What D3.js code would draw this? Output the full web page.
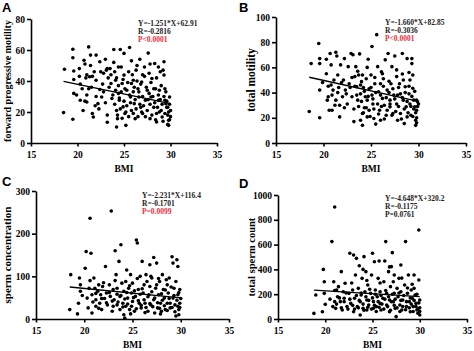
<!DOCTYPE html>
<html>
<head>
<meta charset="utf-8">
<script src="https://cdnjs.cloudflare.com/ajax/libs/d3/7.8.5/d3.min.js"></script>
<style>
  body { margin: 0; background: #fff; }
  svg { display: block; }
</style>
</head>
<body>
<svg width="474" height="351"></svg>
<script>
// BMI on the x axis, same ticks for every panel
const bmiTicks = [15, 20, 25, 30, 35];

// panel A: forward progressive motility, [BMI, value]
const progMotility = [
  [18.5,19.6],[18.6,47.6],[19.5,60.5],[19.5,55],[19.6,46.5],[19.6,41],[19.6,32],[19.5,15.3],[20.2,48],[20.3,38],
  [20.3,27.6],[20.6,21],[20.7,53.4],[20.8,51],[20.9,42],[21,31],[21,26.5],[21.2,62],[21.3,42.7],[21.4,56.7],
  [21.4,50],[21.5,36],[21.6,19],[21.7,16.8],[21.8,46],[22,56.7],[22,40.5],[22.2,25.4],[22.4,52.4],[22.4,34.5],
  [22.6,29.7],[22.8,45],[23,54],[23.1,47],[23.2,18],[23.2,13.4],[23.3,42],[23.5,48],[23.6,38.4],[23.7,28.7],
  [23.9,60.3],[24,46],[24.1,40.5],[24.1,34],[24.2,21],[24.2,10.3],[24.3,15.7],[24.4,32],[24.5,27.6],[24.6,60.3],
  [24.7,49],[24.8,38.4],[24.9,23.3],[25,57.8],[25,43.8],[25.1,19],[25.2,11.4],[25.3,34],[25.5,46],[25.6,61.6],
  [25.7,29.7],[25.8,38.4],[25.8,21],[26,40.5],[26,33],[26.1,25.4],[26.2,15.7],[26.4,50],[26.5,35],[26.6,29.7],
  [26.7,54],[26.8,23],[26.9,39.4],[27,19],[27.2,49],[27.3,27.6],[27.5,34],[27.6,58],[27.7,45],[27.8,15.7],
  [27.9,29.7],[28,41.6],[28.2,23],[28.3,51.3],[28.4,35],[28.5,19],[28.5,13.6],[28.7,27.6],[28.8,34],[28.9,46],
  [29,21],[29.1,16.8],[29.3,52.4],[29.3,43.8],[29.4,35],[29.4,27.6],[29.5,25.4],[29.6,23],[29.7,18],[29.8,14.7],
  [29.8,11.4],[29.9,29.7],[30,21],[23.4,36],[23.6,44],[23.8,31],[24,25],[24.2,42],[24.3,18],[24.4,37],
  [24.5,29],[24.6,22],[24.7,33],[24.8,16],[24.9,41],[25,27],[25.1,35],[25.2,20],[25.3,24],[25.4,39],
  [25.5,17],[25.6,31],[25.7,26],[25.9,44],[26,19],[26.1,36],[26.2,28],[26.3,22],[26.4,40],[26.5,17],
  [26.6,33],[26.7,25],[26.8,38],[26.9,20],[27,30],[27.1,24],[27.2,43],[27.3,17],[27.4,36],[27.5,21],
  [27.6,28],[27.7,32],[27.8,25],[27.9,39],[28,18],[28.1,30],[28.2,35],[28.3,26],[28.4,15],[28.5,42],
  [28.6,23],[28.7,31],[28.8,20],[28.9,28],[29,37],[29.1,25],[29.2,14],[29.3,30],[29.4,19],[29.5,33],
  [29.6,27],[29.7,23],[29.8,20],[29.9,25],[30,17],[29.7,12],[29.9,15],[21,44],[21.2,35],[21.6,43],
  [22,30],[22.3,22],[22.5,46],[22.7,38],[23,26],[23.2,48],[20.5,35],[20.8,27],[21.9,24],[22.8,33],
  [23.9,52],[24.4,49],[25.8,53],[26.3,47],[27,44],[27.8,51],[28.7,49],[29.2,47],[19.9,31],[20.2,43]
];

// panel B: total motility
const totalMotility = [
  [18.5,25],[18.7,63],[19.5,79],[19.6,67],[19.6,63],[19.6,42],[19.6,20],[20.3,66.5],[20.3,55],[20.4,34],
  [20.5,36.7],[20.7,71],[20.8,62],[20.8,46],[20.9,26],[21,42],[21.1,50],[21.3,72],[21.3,34],[21.4,69],
  [21.5,54],[21.6,44],[21.7,20.7],[21.7,30],[21.8,62],[22,36.7],[22.1,50],[22.2,67],[22.3,42],[22.5,31],
  [22.6,60.6],[22.7,47],[22.9,71],[23,36.7],[23.1,70],[23.2,27],[23.2,17],[23.3,52.7],[23.4,60.6],[23.5,44.7],
  [23.6,34],[23.7,54],[23.8,70.7],[23.9,39],[23.9,18],[24,48.7],[24.1,14],[24.1,23.4],[24.2,44],[24.3,28],
  [24.4,36.7],[24.5,51],[24.6,20.7],[24.6,34],[24.7,66.5],[24.8,43],[24.8,26],[25,54],[25.1,76.6],[25.1,38],
  [25.2,31],[25.3,19.4],[25.4,47],[25.5,15],[25.6,86],[25.7,60.6],[25.8,40.7],[25.9,26],[26,47],[26,18],
  [26.1,56.6],[26.2,35.4],[26.3,51],[26.4,30],[26.5,66],[26.6,22],[26.7,42],[26.8,71],[27,34],[27,28.7],
  [27.1,47],[27.2,60.6],[27.3,23.4],[27.4,38],[27.5,69],[27.7,52.7],[27.7,31],[27.8,18],[27.9,44],[28.1,39],
  [28.1,23.4],[28.3,71],[28.3,54.8],[28.4,34],[28.5,15.4],[28.6,44.7],[28.7,28.7],[28.8,67],[28.8,20.7],[29,39],
  [29.1,50],[29.1,31],[29.2,22],[29.3,67],[29.3,63],[29.4,54],[29.4,43.4],[29.5,34],[29.6,28.7],[29.7,18],
  [29.7,14],[29.8,34],[29.8,26],[29.9,32.7],[23.5,38],[23.7,29],[23.9,46],[24,33],[24.2,24],[24.3,41],
  [24.5,28],[24.7,37],[24.9,21],[25,44],[25.2,35],[25.3,27],[25.5,40],[25.7,31],[25.8,23],[26,38],
  [26.1,29],[26.3,45],[26.4,19],[26.6,36],[26.7,26],[26.9,40],[27,31],[27.2,22],[27.3,43],[27.5,35],
  [27.6,25],[27.8,38],[27.9,29],[28,47],[28.2,19],[28.3,36],[28.5,27],[28.6,40],[28.8,33],[28.9,24],
  [29,45],[29.2,29],[29.3,37],[29.4,21],[29.5,27],[29.6,41],[29.7,24],[29.8,16],[29.9,29],[30,31],
  [29.8,20],[20.5,45],[20.9,38],[21.2,30],[21.5,40],[21.9,48],[22.2,28],[22.4,39],[22.8,44],[23,52],
  [23.3,45],[23.6,57],[24.1,54],[24.6,60],[25.4,52],[26.2,55],[26.9,49],[27.7,58],[28.4,50],[29,56],
  [19.9,48],[20.6,26]
];

// panel C: sperm concentration
const concentration = [
  [18.5,22],[18.6,104],[19.3,12],[19.4,37],[19.5,96],[19.6,80],[19.6,65],[20.1,119],[20.2,158],[20.3,49],
  [20.4,26],[20.6,90],[20.6,236],[20.7,154],[20.8,14],[20.8,57],[21,96],[21.1,72],[21.2,30],[21.2,45],
  [21.4,65],[21.5,80],[21.6,37],[21.7,57],[21.8,22],[21.9,76],[22.1,48],[22.2,123],[22.3,61],[22.4,33],
  [22.6,80],[22.7,53],[22.8,253],[22.9,18],[23,69],[23.1,45],[23.2,160],[23.3,104],[23.4,33],[23.4,72],
  [23.6,135],[23.7,22],[23.7,53],[23.8,174],[23.9,84],[24,37],[24.1,10],[24.1,65],[24.2,2],[24.3,30],
  [24.4,115],[24.5,49],[24.6,72],[24.7,22],[24.8,104],[24.9,61],[25,41],[25,84],[25.2,18],[25.3,53],
  [25.4,185],[25.5,178],[25.6,69],[25.7,37],[25.8,100],[25.9,26],[26,135],[26.1,61],[26.2,80],[26.3,37],
  [26.4,104],[26.6,18],[26.7,57],[26.8,127],[26.8,76],[26.9,33],[27,96],[27.2,144],[27.2,45],[27.3,14],
  [27.4,72],[27.5,131],[27.6,26],[27.7,57],[27.8,88],[27.9,37],[28,18],[28.1,104],[28.2,69],[28.3,49],
  [28.4,22],[28.6,80],[28.6,37],[28.7,61],[28.8,96],[28.9,26],[29.1,146],[29.2,49],[29.2,131],[29.3,72],
  [29.4,33],[29.5,88],[29.6,139],[29.7,123],[29.7,57],[29.8,22],[29.8,10],[29.9,37],[29.9,69],[23.5,40],
  [23.8,55],[24,28],[24.2,47],[24.4,62],[24.5,35],[24.7,78],[24.9,30],[25.1,50],[25.2,66],[25.4,24],
  [25.6,43],[25.8,58],[25.9,32],[26,71],[26.2,45],[26.4,27],[26.5,88],[26.6,52],[26.8,36],[27,64],
  [27.1,29],[27.3,49],[27.5,80],[27.6,38],[27.8,25],[28,59],[28.1,44],[28.3,31],[28.4,68],[28.6,20],
  [28.8,48],[28.9,37],[29,75],[29.1,27],[29.3,55],[29.4,17],[29.6,44],[29.7,30],[29.8,62],[29.9,27],
  [30,48],[29.5,7],[21.2,60],[21.5,25],[21.8,48],[22,85],[22.3,38],[22.6,62],[22.9,42],[23.2,90],
  [23.4,58],[20.5,72],[20.9,40],[19.8,55],[23,30],[24.3,88],[25.5,95],[26.9,100],[27.7,95],[28.5,92],
  [26.3,15],[27.9,12],[24.8,12]
];

// panel D: total sperm count
const spermCount = [
  [18.8,45],[19,194],[19.7,59],[19.8,400],[19.9,301],[19.9,207],[20,118],[20.7,624],[21,903],[20.9,301],
  [21,140],[21.1,86],[21.2,234],[21.3,180],[21.4,261],[21.6,140],[21.7,382],[21.8,73],[21.9,220],[22,167],
  [22.1,288],[22.3,100],[22.5,207],[22.6,530],[22.7,126],[22.9,234],[23,516],[23,59],[23.1,167],[23.2,355],
  [23.3,489],[23.4,100],[23.5,247],[23.6,430],[23.7,140],[23.7,32],[23.8,194],[23.9,328],[24,86],[24.1,503],
  [24.2,220],[24.3,382],[24.4,153],[24.4,73],[24.5,274],[24.6,113],[24.8,207],[24.9,355],[25,530],[25.1,140],
  [25.1,86],[25.2,462],[25.3,234],[25.4,100],[25.5,180],[25.6,328],[25.7,468],[25.8,126],[25.8,220],[25.9,73],
  [26.1,167],[26.2,301],[26.3,468],[26.4,624],[26.5,113],[26.5,207],[26.7,382],[26.8,59],[26.8,153],[26.9,261],
  [27,422],[27.1,535],[27.2,140],[27.3,355],[27.3,207],[27.4,86],[27.5,19],[27.6,247],[27.7,180],[27.8,328],
  [27.9,113],[28,435],[28,220],[28.1,73],[28.2,153],[28.4,274],[28.5,624],[28.6,100],[28.7,207],[28.8,355],
  [28.9,140],[29,59],[29.1,234],[29.2,167],[29.3,100],[29.4,355],[29.4,247],[29.5,194],[29.6,126],[29.7,73],
  [29.8,46],[29.9,718],[29.9,314],[30,153],[30,32],[23.5,90],[23.6,150],[23.8,210],[24,120],[24.1,70],
  [24.3,180],[24.5,95],[24.6,150],[24.7,240],[24.9,80],[25,170],[25.2,110],[25.3,200],[25.4,60],[25.6,140],
  [25.7,95],[25.9,190],[26,120],[26.2,80],[26.3,160],[26.4,230],[26.6,100],[26.7,180],[26.9,70],[27,140],
  [27.1,200],[27.3,110],[27.4,160],[27.6,90],[27.8,210],[27.9,60],[28,150],[28.2,100],[28.3,190],[28.5,75],
  [28.6,140],[28.7,250],[28.9,90],[29,170],[29.1,120],[29.3,60],[29.4,150],[29.6,100],[29.7,200],[29.8,80],
  [29.9,130],[30,90],[30,60],[21.2,120],[21.5,170],[21.7,90],[22,140],[22.2,210],[22.4,80],[22.6,160],
  [22.9,110],[23.1,80],[23.3,190],[20.5,160],[20.8,100],[21,230],[22.8,290],[24.4,310],[25.8,290],[27.2,300],
  [28.1,330],[26.8,420],[24,400],[29.2,280]
];

// regression fits [slope, intercept] and stats text
const fits = [[-1.251, 62.91], [-1.660, 82.85], [-2.231, 116.4], [-4.648, 320.2]];
const statLines = [
  ["Y=-1.251*X+62.91", "R=-0.2816", "P<0.0001"],
  ["Y=-1.660*X+82.85", "R=-0.3036", "P<0.0001"],
  ["Y=-2.231*X+116.4", "R=-0.1701", "P=0.0099"],
  ["Y=-4.648*X+320.2", "R=-0.1175", "P=0.0761"]
];
const pSignificant = [true, true, true, false];
const yTickSets = [[0, 20, 40, 60, 80], [0, 20, 40, 60, 80, 100], [0, 100, 200, 300], [0, 200, 400, 600, 800, 1000]];
const yTitles = ["forward progressive motility", "total motility", "sperm concentration", "total sperm count"];
const letters = ["A", "B", "C", "D"];
const allData = [progMotility, totalMotility, concentration, spermCount];

// pixel layout of each panel
const layout = [
  { x0: 31, x1: 217, yTop: 19, yBot: 143, titleX: 7, titleSize: 10, statX: 138, statY: 26, letterX: 2, letterY: 12 },
  { x0: 276, x1: 466, yTop: 17, yBot: 143, titleX: 251, titleSize: 11.5, statX: 385, statY: 25, letterX: 239, letterY: 12 },
  { x0: 36, x1: 229, yTop: 191, yBot: 319, titleX: 7, titleSize: 11, statX: 142, statY: 198, letterX: 2, letterY: 186 },
  { x0: 278, x1: 467, yTop: 195, yBot: 319, titleX: 251, titleSize: 10.5, statX: 385, statY: 201, letterX: 239, letterY: 188 }
];

const svg = d3.select("svg");
svg.append("rect").attr("width", 474).attr("height", 351).attr("fill", "#fff");
const serif = "'Liberation Serif', 'Times New Roman', serif";

function drawPanel(i) {
  const L = layout[i];
  const data = allData[i];
  const yt = yTickSets[i];
  const g = svg.append("g");

  const x = d3.scaleLinear().domain([15, 35]).range([L.x0, L.x1]);
  const y = d3.scaleLinear().domain([0, yt[yt.length - 1]]).range([L.yBot, L.yTop]);

  const xAxis = g.append("g")
    .attr("transform", `translate(0,${L.yBot})`)
    .call(d3.axisBottom(x).tickValues(bmiTicks).tickSize(3.5).tickSizeOuter(0).tickPadding(4.5));
  const yAxis = g.append("g")
    .attr("transform", `translate(${L.x0},0)`)
    .call(d3.axisLeft(y).tickValues(yt).tickFormat(d3.format("d")).tickSize(4).tickSizeOuter(0).tickPadding(2));

  [xAxis, yAxis].forEach(a => {
    a.selectAll("path, line").attr("stroke", "#000").attr("stroke-width", 1.6);
    a.selectAll("text")
      .attr("font-family", serif)
      .attr("font-weight", "bold")
      .attr("font-size", "9.5px")
      .attr("fill", "#000");
  });

  // scatter points
  g.selectAll(".dot")
    .data(data)
    .enter().append("circle")
    .attr("class", "dot")
    .attr("cx", d => x(d[0]))
    .attr("cy", d => y(d[1]))
    .attr("r", 1.8)
    .attr("fill", "#000");

  // regression line over the BMI range of the data
  const [m, b] = fits[i];
  const ext = d3.extent(data, d => d[0]);
  g.append("line")
    .attr("x1", x(ext[0])).attr("y1", y(m * ext[0] + b))
    .attr("x2", x(ext[1])).attr("y2", y(m * ext[1] + b))
    .attr("stroke", "#000")
    .attr("stroke-width", 1.4);

  // axis titles
  g.append("text")
    .attr("x", (L.x0 + L.x1) / 2)
    .attr("y", L.yBot + 28.5)
    .attr("text-anchor", "middle")
    .attr("font-family", serif)
    .attr("font-weight", "bold")
    .attr("font-size", "9.5px")
    .text("BMI");

  g.append("text")
    .attr("transform", `translate(${L.titleX},${(L.yTop + L.yBot) / 2}) rotate(-90)`)
    .attr("text-anchor", "middle")
    .attr("dominant-baseline", "central")
    .attr("font-family", serif)
    .attr("font-weight", "bold")
    .attr("font-size", L.titleSize + "px")
    .text(yTitles[i]);

  // stats
  g.selectAll(".stat")
    .data(statLines[i])
    .enter().append("text")
    .attr("x", L.statX)
    .attr("y", (d, k) => L.statY + k * 8)
    .attr("font-family", serif)
    .attr("font-weight", "bold")
    .attr("font-size", "7.5px")
    .attr("fill", (d, k) => (k === 2 && pSignificant[i]) ? "#e8303c" : "#222")
    .text(d => d);

  // panel letter
  svg.append("text")
    .attr("x", L.letterX)
    .attr("y", L.letterY)
    .attr("font-family", "'Liberation Sans', Arial, sans-serif")
    .attr("font-weight", "bold")
    .attr("font-size", "13px")
    .text(letters[i]);
}

letters.forEach((d, i) => drawPanel(i));
</script>
</body>
</html>
